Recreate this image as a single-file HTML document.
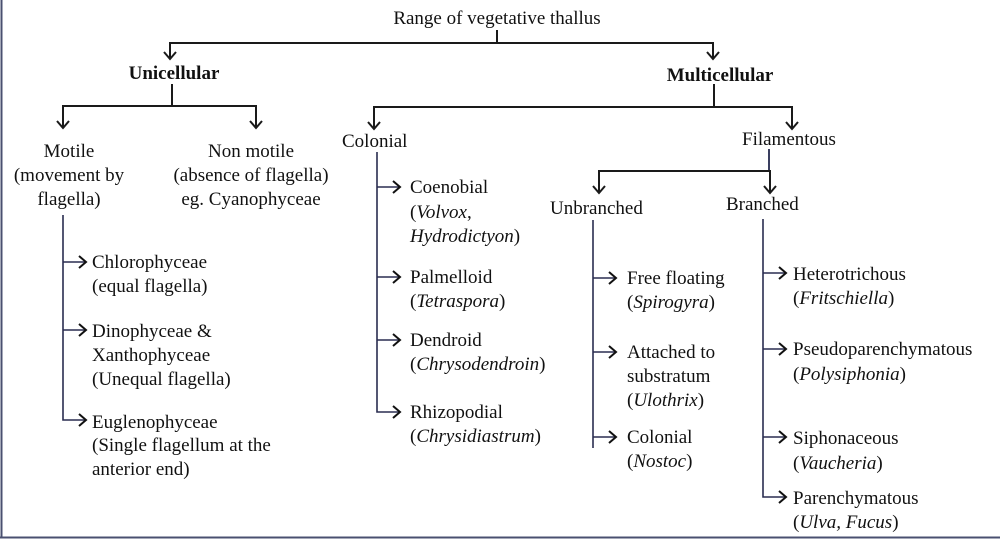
<!DOCTYPE html>
<html><head><meta charset="utf-8"><style>
html,body{margin:0;padding:0;background:#fff;}
svg{display:block;}
svg, text{font-family:"Liberation Serif","Times New Roman",Times,"Noto Serif CJK SC","DejaVu Serif",serif;font-size:19px;fill:#111;}
.b{font-weight:bold;}
.i{font-style:italic;}
</style></head><body>
<svg width="1000" height="541" viewBox="0 0 1000 541" xmlns="http://www.w3.org/2000/svg" font-family="Liberation Serif, Times New Roman, Noto Serif CJK SC, DejaVu Serif, serif">
<rect x="0" y="0" width="1000" height="541" fill="#fff"/>
<line x1="1.5" y1="0" x2="1.5" y2="538" stroke="#4a5070" stroke-width="2"/>
<line x1="0" y1="537.5" x2="1000" y2="537.5" stroke="#4a5070" stroke-width="2"/>
<g stroke="#1a1a1a" stroke-width="2" fill="none">
<line x1="497" y1="30" x2="497" y2="43"/>
<polyline points="170,59 170,43 713,43 713,59"/>
<polyline points="164,52 170,59 176,52"/>
<polyline points="707,52 713,59 719,52"/>
<line x1="172" y1="84" x2="172" y2="106"/>
<polyline points="63,128 63,106 256,106 256,128"/>
<polyline points="57,121 63,128 69,121"/>
<polyline points="250,121 256,128 262,121"/>
<line x1="714" y1="84" x2="714" y2="107"/>
<polyline points="374,129 374,107 792,107 792,129"/>
<polyline points="368,122 374,129 380,122"/>
<polyline points="786,122 792,129 798,122"/>
<line x1="769" y1="149" x2="769" y2="171" stroke="#3a3f60"/>
<polyline points="599,193 599,171 770,171 770,193"/>
<polyline points="593,186 599,193 605,186"/>
<polyline points="764,186 770,193 776,186"/>
</g>
<g stroke="#2a2d50" stroke-width="1.6" fill="none">
<polyline points="63,215 63,420 86,420"/>
<line x1="63" y1="262" x2="86" y2="262"/>
<line x1="63" y1="330" x2="86" y2="330"/>
<polyline points="377,152 377,412 400,412"/>
<line x1="377" y1="187" x2="400" y2="187"/>
<line x1="377" y1="277" x2="400" y2="277"/>
<line x1="377" y1="340" x2="400" y2="340"/>
<line x1="593" y1="220" x2="593" y2="448"/>
<line x1="593" y1="278" x2="616" y2="278"/>
<line x1="593" y1="352" x2="616" y2="352"/>
<line x1="593" y1="437" x2="616" y2="437"/>
<polyline points="763,219 763,497 786,497"/>
<line x1="763" y1="273" x2="786" y2="273"/>
<line x1="763" y1="349" x2="786" y2="349"/>
<line x1="763" y1="437" x2="786" y2="437"/>
</g>
<g stroke="#111" stroke-width="2" fill="none">
<polyline points="79,256 86,262 79,268"/><polyline points="79,324 86,330 79,336"/><polyline points="79,414 86,420 79,426"/>
<polyline points="393,181 400,187 393,193"/><polyline points="393,271 400,277 393,283"/><polyline points="393,334 400,340 393,346"/><polyline points="393,406 400,412 393,418"/>
<polyline points="609,272 616,278 609,284"/><polyline points="609,346 616,352 609,358"/><polyline points="609,431 616,437 609,443"/>
<polyline points="779,267 786,273 779,279"/><polyline points="779,343 786,349 779,355"/><polyline points="779,431 786,437 779,443"/><polyline points="779,491 786,497 779,503"/>
</g>
<text x="497" y="24" text-anchor="middle">Range of vegetative thallus</text>
<text x="174" y="79" text-anchor="middle" class="b">Unicellular</text>
<text x="720" y="81" text-anchor="middle" class="b">Multicellular</text>
<text x="69" y="157" text-anchor="middle">Motile</text>
<text x="69" y="181" text-anchor="middle">(movement by</text>
<text x="69" y="205" text-anchor="middle">flagella)</text>
<text x="251" y="157" text-anchor="middle">Non motile</text>
<text x="251" y="181" text-anchor="middle">(absence of flagella)</text>
<text x="251" y="205" text-anchor="middle">eg. Cyanophyceae</text>
<text x="342" y="147">Colonial</text>
<text x="742" y="145">Filamentous</text>
<text x="550" y="214">Unbranched</text>
<text x="726" y="210">Branched</text>
<text x="92" y="268">Chlorophyceae</text>
<text x="92" y="292">(equal flagella)</text>
<text x="92" y="337">Dinophyceae &amp;</text>
<text x="92" y="361">Xanthophyceae</text>
<text x="92" y="385">(Unequal flagella)</text>
<text x="92" y="428">Euglenophyceae</text>
<text x="92" y="451">(Single flagellum at the</text>
<text x="92" y="475">anterior end)</text>
<text x="410" y="193">Coenobial</text>
<text x="410" y="218">(<tspan class="i">Volvox</tspan>,</text>
<text x="410" y="242"><tspan class="i">Hydrodictyon</tspan>)</text>
<text x="410" y="283">Palmelloid</text>
<text x="410" y="307">(<tspan class="i">Tetraspora</tspan>)</text>
<text x="410" y="346">Dendroid</text>
<text x="410" y="370">(<tspan class="i">Chrysodendroin</tspan>)</text>
<text x="410" y="418">Rhizopodial</text>
<text x="410" y="442">(<tspan class="i">Chrysidiastrum</tspan>)</text>
<text x="627" y="284">Free floating</text>
<text x="627" y="308">(<tspan class="i">Spirogyra</tspan>)</text>
<text x="627" y="358">Attached to</text>
<text x="627" y="382">substratum</text>
<text x="627" y="406">(<tspan class="i">Ulothrix</tspan>)</text>
<text x="627" y="443">Colonial</text>
<text x="627" y="467">(<tspan class="i">Nostoc</tspan>)</text>
<text x="793" y="280">Heterotrichous</text>
<text x="793" y="304">(<tspan class="i">Fritschiella</tspan>)</text>
<text x="793" y="355">Pseudoparenchymatous</text>
<text x="793" y="380">(<tspan class="i">Polysiphonia</tspan>)</text>
<text x="793" y="444">Siphonaceous</text>
<text x="793" y="469">(<tspan class="i">Vaucheria</tspan>)</text>
<text x="793" y="504">Parenchymatous</text>
<text x="793" y="528">(<tspan class="i">Ulva, Fucus</tspan>)</text>
</svg>
</body></html>
